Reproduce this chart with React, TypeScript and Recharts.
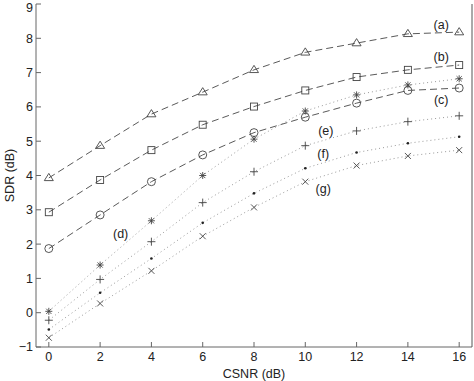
import React from 'react';
import { LineChart, Line, XAxis, YAxis, ReferenceDot } from 'recharts';

// CSNR values (dB)
const csnr = [0, 2, 4, 6, 8, 10, 12, 14, 16];

// SDR values (dB) per curve
const sdrA = [3.93, 4.87, 5.79, 6.43, 7.08, 7.59, 7.86, 8.13, 8.18];
const sdrB = [2.93, 3.87, 4.74, 5.48, 6.01, 6.48, 6.87, 7.08, 7.22];
const sdrC = [1.87, 2.85, 3.82, 4.6, 5.25, 5.7, 6.11, 6.48, 6.55];
const sdrD = [0.04, 1.39, 2.68, 4.0, 5.06, 5.88, 6.35, 6.64, 6.82];
const sdrE = [-0.22, 0.97, 2.07, 3.21, 4.11, 4.87, 5.3, 5.57, 5.74];
const sdrF = [-0.49, 0.58, 1.58, 2.62, 3.48, 4.21, 4.67, 4.94, 5.13];
const sdrG = [-0.73, 0.27, 1.22, 2.23, 3.07, 3.82, 4.29, 4.57, 4.74];

const xTicks = [0, 2, 4, 6, 8, 10, 12, 14, 16];
const yTicks = [-1, 0, 1, 2, 3, 4, 5, 6, 7, 8, 9];

// curve labels and where they sit (data coords)
const labelText = ['(a)', '(b)', '(c)', '(d)', '(e)', '(f)', '(g)'];
const labelX = [15.3, 15.3, 15.3, 2.8, 10.8, 10.7, 10.7];
const labelY = [8.4, 7.47, 6.22, 2.31, 5.31, 4.65, 3.63];

const chartData = csnr.map((x, i) => ({
  x,
  a: sdrA[i],
  b: sdrB[i],
  c: sdrC[i],
  d: sdrD[i],
  e: sdrE[i],
  f: sdrF[i],
  g: sdrG[i],
}));

const markerColor = '#444';

function Marker({ shape, cx, cy }: { shape: string; cx: number; cy: number }) {
  if (cx == null || cy == null) return <g />;
  const s = 4.5;
  switch (shape) {
    case 'triangle':
      return (
        <polygon
          points={`${cx},${cy - s} ${cx - s},${cy + s * 0.6} ${cx + s},${cy + s * 0.6}`}
          fill="none" stroke={markerColor} strokeWidth={0.9}
        />
      );
    case 'square':
      return <rect x={cx - 3.5} y={cy - 3.5} width={7} height={7} fill="none" stroke={markerColor} strokeWidth={0.9} />;
    case 'circle':
      return <circle cx={cx} cy={cy} r={4} fill="none" stroke={markerColor} strokeWidth={0.9} />;
    case 'star':
      return (
        <g stroke={markerColor} strokeWidth={0.9}>
          <line x1={cx - 3.5} y1={cy} x2={cx + 3.5} y2={cy} />
          <line x1={cx} y1={cy - 3.5} x2={cx} y2={cy + 3.5} />
          <line x1={cx - 2.6} y1={cy - 2.6} x2={cx + 2.6} y2={cy + 2.6} />
          <line x1={cx - 2.6} y1={cy + 2.6} x2={cx + 2.6} y2={cy - 2.6} />
        </g>
      );
    case 'plus':
      return (
        <g stroke={markerColor} strokeWidth={0.9}>
          <line x1={cx - 4} y1={cy} x2={cx + 4} y2={cy} />
          <line x1={cx} y1={cy - 4} x2={cx} y2={cy + 4} />
        </g>
      );
    case 'dot':
      return <circle cx={cx} cy={cy} r={1.3} fill="#222" />;
    case 'cross':
      return (
        <g stroke={markerColor} strokeWidth={0.9}>
          <line x1={cx - 3} y1={cy - 3} x2={cx + 3} y2={cy + 3} />
          <line x1={cx - 3} y1={cy + 3} x2={cx + 3} y2={cy - 3} />
        </g>
      );
    default:
      return <g />;
  }
}

const series = [
  { key: 'a', shape: 'triangle', dashed: true },
  { key: 'b', shape: 'square', dashed: true },
  { key: 'c', shape: 'circle', dashed: true },
  { key: 'd', shape: 'star', dashed: false },
  { key: 'e', shape: 'plus', dashed: false },
  { key: 'f', shape: 'dot', dashed: false },
  { key: 'g', shape: 'cross', dashed: false },
];

const fmt = (v: number) => String(v).replace('-', '\u2212');

export default function App() {
  const fs = 12.5;
  const tickStyle = { fill: '#222', fontSize: fs };
  return (
    <div style={{ position: 'absolute', left: 0, top: 0 }}>
      <LineChart
        width={474}
        height={381}
        data={chartData}
        margin={{ top: 4, right: 0, left: 0, bottom: 0 }}
        style={{ fontFamily: '"Liberation Sans", Arial, sans-serif' }}
      >
        <XAxis
          xAxisId="b"
          dataKey="x"
          type="number"
          domain={[-0.5, 16.5]}
          allowDataOverflow
          ticks={xTicks}
          tickSize={-5}
          tickMargin={10}
          height={34}
          stroke="#666"
          tick={tickStyle}
          label={{ value: 'CSNR (dB)', position: 'insideBottom', offset: 3, fill: '#222', fontSize: fs }}
        />
        <XAxis
          xAxisId="t"
          orientation="top"
          dataKey="x"
          type="number"
          domain={[-0.5, 16.5]}
          allowDataOverflow
          ticks={xTicks}
          tickSize={-5}
          height={0}
          stroke="#666"
          tick={false}
        />
        <YAxis
          yAxisId="l"
          type="number"
          domain={[-1, 9]}
          allowDataOverflow
          ticks={yTicks}
          tickSize={-5}
          tickMargin={8}
          width={36}
          stroke="#666"
          tick={tickStyle}
          tickFormatter={fmt}
          label={{
            content: (p: any) => {
              const vb = p.viewBox;
              const cx = vb.x + 10;
              const cy = vb.y + vb.height / 2;
              return (
                <text x={cx} y={cy} transform={`rotate(-90, ${cx}, ${cy})`} textAnchor="middle" dominantBaseline="central" fill="#222" fontSize={fs}>
                  SDR (dB)
                </text>
              );
            },
          }}
        />
        <YAxis
          yAxisId="r"
          orientation="right"
          type="number"
          domain={[-1, 9]}
          allowDataOverflow
          ticks={yTicks}
          tickSize={-5}
          width={2}
          stroke="#555"
          tick={false}
        />
        {series.map((s) => (
          <Line
            key={s.key}
            xAxisId="b"
            yAxisId="l"
            type="linear"
            dataKey={s.key}
            stroke={s.dashed ? '#5a5a5a' : '#9a9a9a'}
            strokeWidth={1}
            strokeDasharray={s.dashed ? '7 4' : '1 3'}
            isAnimationActive={false}
            dot={(p: any) => <Marker key={`${s.key}-${p.index}`} shape={s.shape} cx={p.cx} cy={p.cy} />}
            activeDot={false}
          />
        ))}
        {labelText.map((t, i) => (
          <ReferenceDot
            key={t}
            xAxisId="b"
            yAxisId="l"
            x={labelX[i]}
            y={labelY[i]}
            r={0}
            fill="none"
            stroke="none"
            label={{ value: t, position: 'center', fill: '#222', fontSize: fs }}
          />
        ))}
      </LineChart>
    </div>
  );
}
